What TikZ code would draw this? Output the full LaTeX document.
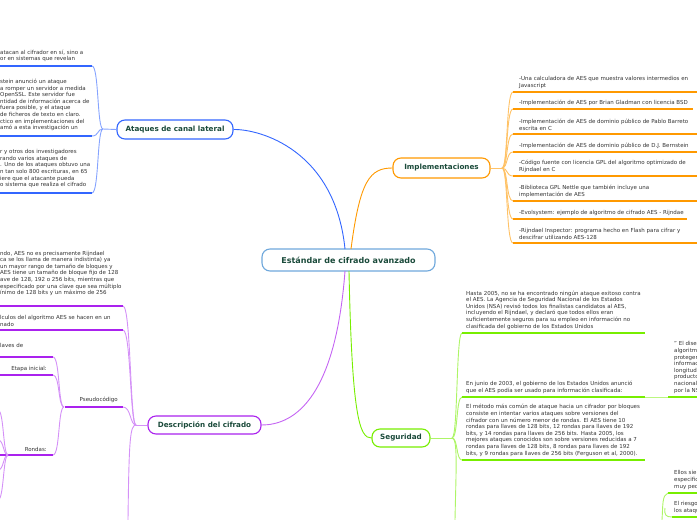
\documentclass[tikz,border=0pt]{standalone}
\usepackage{fontspec}
\setmainfont{DejaVu Sans}
\definecolor{cblue}{HTML}{3366FF}
\definecolor{corange}{HTML}{FF9900}
\definecolor{cgreen}{HTML}{77EE00}
\definecolor{cpurple}{HTML}{AA22EE}
\definecolor{ccentral}{HTML}{6FA8DC}
\definecolor{ctitle}{HTML}{1A4A3A}
\definecolor{ctext}{HTML}{333333}
\begin{document}
\begin{tikzpicture}[x=1pt,y=-1pt,
  topic/.style={draw, rounded corners=8pt, line width=1.1pt, fill=white, font=\fontsize{7.2}{8}\selectfont\bfseries, text=ctitle, inner sep=0pt},
  leaf/.style={font=\fontsize{5.5}{6.6}\selectfont, text=ctext, inner sep=0pt, align=left},
  uline/.style={line width=1.4pt},
  conn/.style={line width=0.9pt}]
\useasboundingbox (0,0) rectangle (697,520);
\clip (0,0) rectangle (697,520);

\node[topic, draw=ccentral, minimum width=173pt, minimum height=22pt, font=\fontsize{8}{9}\selectfont\bfseries] (C) at (348.5,260) {Estándar de cifrado avanzado};
\node[topic, draw=cblue, minimum width=116pt, minimum height=19pt] (A) at (175,129.5) {Ataques de canal lateral};
\node[topic, draw=corange, minimum width=97pt, minimum height=20pt] (I) at (441.5,168) {Implementaciones};
\node[topic, draw=cgreen, minimum width=58pt, minimum height=18pt] (S) at (401,438) {Seguridad};
\node[topic, draw=cpurple, minimum width=113pt, minimum height=18pt] (D) at (204.5,425) {Descripción del cifrado};

\draw[conn, cblue] (345,249) .. controls (335,150) and (260,129) .. (A.east);
\draw[conn, corange] (351,249) .. controls (360,180) and (370,168) .. (I.west);
\draw[conn, cpurple!70] (345,271) .. controls (335,405) and (290,425) .. (D.east);
\draw[conn, cgreen] (349,271) .. controls (352,420) and (360,438) .. (S.west);

% ---------- Ataques de canal lateral ----------
\coordinate (ah) at (103,129);
\draw[conn, cblue!60] (A.west) -- (ah);
\foreach \y in {66,136,193} {
  \draw[conn, cblue!60] (ah) .. controls (97,129) and (99,\y) .. (92,\y);
  \draw[uline, cblue] (0,\y) -- (92,\y);
}
\node[leaf, anchor=south west] (a1) at (0,62) {atacan al cifrador en sí, sino a\\or en sistemas que revelan};
\node[leaf, anchor=south west] (a2) at (0,131) {stein anunció un ataque\\a romper un servidor a medida\\OpenSSL. Este servidor fue\\ntidad de información acerca de\\fuera posible, y el ataque\\de ficheros de texto en claro.\\ctico en implementaciones del\\amó a esta investigación un};
\node[leaf, anchor=south west] (a3) at (0,188) {r y otros dos investigadores\\rando varios ataques de\\. Uno de los ataques obtuvo una\\n tan solo 800 escrituras, en 65\\iere que el atacante pueda\\o sistema que realiza el cifrado};

% ---------- Implementaciones ----------
\coordinate (ih) at (502,168);
\draw[conn, corange!60] (I.east) -- (ih);
\foreach \y/\e in {92/697,109/693,134/697,152/697,176/697,201/697,219/687,243/697} {
  \draw[conn, corange!60] (ih) .. controls (508,168) and (506,\y) .. (513,\y);
  \draw[uline, corange] (513,\y) -- (\e,\y);
}
\node[leaf, anchor=south west] (i1) at (519,88.5) {-Una calculadora de AES que muestra valores intermedios en\\Javascript};
\node[leaf, anchor=south west] (i2) at (519,105.5) {-Implementación de AES por Brian Gladman con licencia BSD};
\node[leaf, anchor=south west] (i3) at (519,130.5) {-Implementación de AES de dominio público de Pablo Barreto\\escrita en C};
\node[leaf, anchor=south west] (i4) at (519,148.5) {-Implementación de AES de dominio público de D.J. Bernstein};
\node[leaf, anchor=south west] (i5) at (519,172.5) {-Código fuente con licencia GPL del algoritmo optimizado de\\Rijndael en C};
\node[leaf, anchor=south west] (i6) at (519,197.5) {-Biblioteca GPL Nettle que también incluye una\\implementación de AES};
\node[leaf, anchor=south west] (i7) at (519,215.5) {-Evolsystem: ejemplo de algoritmo de cifrado AES - Rijndae};
\node[leaf, anchor=south west] (i8) at (519,239.5) {-Rijndael Inspector: programa hecho en Flash para cifrar y\\descifrar utilizando AES-128};

% ---------- Seguridad ----------
\coordinate (sh) at (452,438);
\draw[conn, cgreen!60] (S.east) -- (sh);
\foreach \y in {333,397,460} {
  \draw[conn, cgreen!60] (sh) .. controls (458,438) and (456,\y) .. (462,\y);
  \draw[uline, cgreen] (462,\y) -- (645,\y);
}
\draw[conn, cgreen!60] (sh) .. controls (458,438) and (456,470) .. (455,520);
\node[leaf, anchor=south west] (s1) at (466,329.5) {Hasta 2005, no se ha encontrado ningún ataque exitoso contra\\el AES. La Agencia de Seguridad Nacional de los Estados\\Unidos (NSA) revisó todos los finalistas candidatos al AES,\\incluyendo el Rijndael, y declaró que todos ellos eran\\suficientemente seguros para su empleo en información no\\clasificada del gobierno de los Estados Unidos};
\node[leaf, anchor=south west] (s2) at (466,393.5) {En junio de 2003, el gobierno de los Estados Unidos anunció\\que el AES podía ser usado para información clasificada:};
\node[leaf, anchor=south west] (s3) at (466,456.5) {El método más común de ataque hacia un cifrador por bloques\\consiste en intentar varios ataques sobre versiones del\\cifrador con un número menor de rondas. El AES tiene 10\\rondas para llaves de 128 bits, 12 rondas para llaves de 192\\bits, y 14 rondas para llaves de 256 bits. Hasta 2005, los\\mejores ataques conocidos son sobre versiones reducidas a 7\\rondas para llaves de 128 bits, 8 rondas para llaves de 192\\bits, y 9 rondas para llaves de 256 bits (Ferguson et al, 2000).};
\draw[conn, cgreen!50] (645,397) -- (668,397);
\draw[uline, cgreen] (668,397) -- (697,397);
\node[leaf, anchor=south west] (s4) at (674,393.5) {" El dise\\algoritm\\protegen\\informac\\longitud\\producto\\nacional\\por la NS};
\draw[uline, cgreen] (668,493) -- (697,493);
\draw[uline, cgreen] (672,517) -- (697,517);
\draw[conn, cgreen!60] (668,493) .. controls (662,495) and (663,505) .. (662,520);
\draw[conn, cgreen!60] (665,508) .. controls (664,515) and (666,517) .. (672,517);
\node[leaf, anchor=south west] (s5) at (674,489.5) {Ellos sie\\especific\\muy peq};
\node[leaf, anchor=south west] (s6) at (674,513.5) {El riesgo\\los ataqu};

% ---------- Descripción del cifrado ----------
\coordinate (dh) at (136,425);
\draw[conn, cpurple!50] (D.west) -- (dh);
\foreach \y in {306,330,407} {
  \draw[conn, cpurple!50] (dh) .. controls (130,425) and (131,\y) .. (123,\y);
}
\draw[conn, cpurple!50] (dh) .. controls (130,425) and (129,440) .. (128,520);
\draw[uline, cpurple] (0,306) -- (123,306);
\draw[uline, cpurple] (0,330) -- (123,330);
\draw[uline, cpurple] (65,407) -- (123,407);
\node[leaf, anchor=south west] (d1) at (0,296) {ndo, AES no es precisamente Rijndael\\ca se los llama de manera indistinta) ya\\ un mayor rango de tamaño de bloques y\\AES tiene un tamaño de bloque fijo de 128\\ave de 128, 192 o 256 bits, mientras que\\especificado por una clave que sea múltiplo\\ínimo de 128 bits y un máximo de 256};
\node[leaf, anchor=south west] (d2) at (0,326.5) {lculos del algoritmo AES se hacen en un\\nado};
\node[leaf, anchor=south east] (pseudo) at (118,403) {Pseudocódigo};
\coordinate (ph) at (64,407);
\foreach \y in {357,375,455} {
  \draw[conn, cpurple!50] (ph) .. controls (58,407) and (60,\y) .. (53,\y);
  \draw[uline, cpurple] (0,\y) -- (53,\y);
}
\node[leaf, anchor=south west] (cl) at (0,347.5) {laves de};
\node[leaf, anchor=south east] (et) at (47,371.5) {Etapa inicial:};
\node[leaf, anchor=south east] (ro) at (47,451.5) {Rondas:};
\coordinate (rh) at (8,455);
\foreach \y in {410,440,470,500} {
  \draw[conn, cpurple!50] (rh) .. controls (3,455) and (4,\y) .. (-2,\y);
}
\end{tikzpicture}
\end{document}
